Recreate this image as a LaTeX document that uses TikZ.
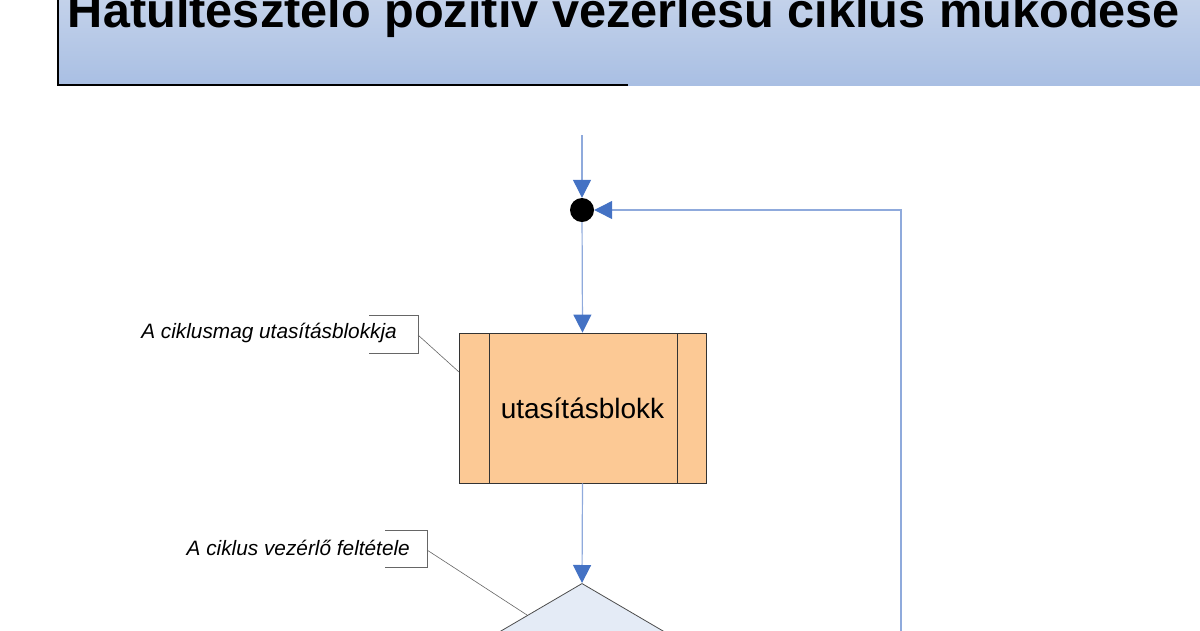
\documentclass[tikz,border=0pt]{standalone}
\usepackage{fontspec}
\setmainfont{Liberation Sans}
\usetikzlibrary{arrows.meta,shapes.geometric}
\definecolor{flow}{HTML}{8FAADC}
\definecolor{tip}{HTML}{4472C4}
\definecolor{boxfill}{HTML}{FCC995}
\definecolor{diafill}{HTML}{E4EBF6}
\definecolor{hdtop}{HTML}{C9D6EC}
\definecolor{hdbot}{HTML}{A9BFE3}
\tikzset{
 flowline/.style={draw=flow,line width=1.2pt},
 arr/.style={flowline,-{Triangle[width=18pt,length=18pt,color=tip]}},
 annot/.style={draw=black!60,line width=0.6pt},
 annottext/.style={font=\itshape\fontsize{20.8}{22}\selectfont,anchor=east,inner sep=0pt}
}
\begin{document}
\begin{tikzpicture}[x=1pt,y=-1pt]
\useasboundingbox (0,0) rectangle (1200,630);
\clip (0,0) rectangle (1200,630);
% header
\shade[top color=hdtop,bottom color=hdbot] (58,-20) rectangle (1200,85);
\draw[line width=2.5pt] (58,-20) -- (58,85) -- (628,85);
\node[inner sep=0pt,anchor=base] (title) at (624,27) {\resizebox{1112pt}{!}{\bfseries\fontsize{50}{56}\selectfont Hátultesztelő pozitív vezérlésű ciklus működése}};
% flow
\coordinate (start) at (582,135);
\node[circle,fill=black,minimum size=24pt,inner sep=0pt] (dot) at (582,210) {};
\node[draw=black!80,fill=boxfill,minimum width=247pt,minimum height=150pt,inner sep=0pt,line width=0.8pt] (blk) at (582.5,408) {};
\draw[black!80,line width=0.8pt] (489,333) -- (489,483) (677,333) -- (677,483);
\node[font=\fontsize{28}{30}\selectfont] at (blk.center) {utasításblokk};
\node[diamond,draw=black!70,fill=diafill,minimum width=280pt,minimum height=164pt,inner sep=0pt,line width=0.8pt,anchor=north] (cond) at (582,583) {};
\draw[arr] (start) -- (dot);
\draw[arr] (dot) -- (blk.north);
\draw[arr] (blk.south) -- (cond.north);
\coordinate (r1) at (901,640);
\coordinate (r2) at (901,210);
\draw[arr] (r1) -- (r2) -- (dot);
% annotations
\node[annottext] (a1) at (397,333) {A ciklusmag utasításblokkja};
\draw[annot] (369,315) -- (418,315) -- (418,353) -- (369,353);
\coordinate (a1e) at (418,335);
\coordinate (a1t) at (459,372);
\draw[annot] (a1e) -- (a1t);
\node[annottext] (a2) at (410,548) {A ciklus vezérlő feltétele};
\draw[annot] (385,530) -- (427,530) -- (427,567) -- (385,567);
\coordinate (a2e) at (427,550);
\coordinate (a2t) at (527,615);
\draw[annot] (a2e) -- (a2t);
\end{tikzpicture}
\end{document}
